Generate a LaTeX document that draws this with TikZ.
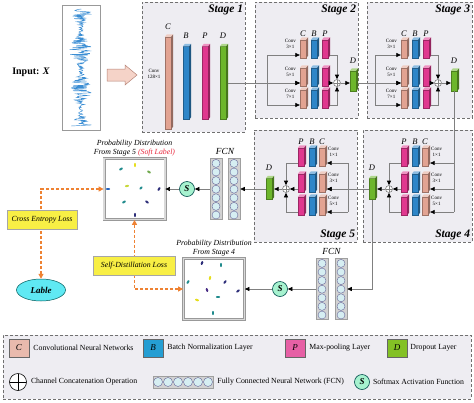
\documentclass[tikz,border=0pt]{standalone}
\usepackage{fontspec}
\setmainfont{Liberation Serif}
\usetikzlibrary{arrows.meta,positioning,calc,shapes.geometric}
\definecolor{convc}{HTML}{E2A392}
\definecolor{bnorm}{HTML}{2E86C8}
\definecolor{mpool}{HTML}{E0388F}
\definecolor{drop}{HTML}{6DB62C}
\definecolor{stagebg}{HTML}{EEEDF2}
\definecolor{bk60}{HTML}{707070}
\definecolor{wire}{HTML}{808080}
\definecolor{lossorange}{HTML}{EE8233}
\definecolor{lossyellow}{HTML}{F8EF45}
\definecolor{labcyan}{HTML}{5FE9F3}
\definecolor{mint}{HTML}{A6F2CF}
\definecolor{cellblue}{HTML}{D6EEF2}
\definecolor{signal}{HTML}{3B8ED4}
\definecolor{softred}{HTML}{E8283C}
\definecolor{arrowpink}{HTML}{F5D3C8}
\definecolor{dotyellow}{HTML}{E6DE1E}
\definecolor{dotteal}{HTML}{1F8A8C}
\definecolor{dotolive}{HTML}{6FA84C}
\definecolor{dotyg}{HTML}{C8D83A}
\definecolor{dotblue}{HTML}{2463BE}
\definecolor{dotnavy}{HTML}{2C2D78}
\definecolor{dotpurple}{HTML}{4A2F86}
\tikzset{
  stagebox/.style={rectangle, draw=bk60, fill=stagebg, line width=0.8pt,
    dash pattern=on 3pt off 2pt, inner sep=0pt},
  stagetitle/.style={font=\fontsize{11.5}{12}\selectfont\bfseries\itshape,
    inner sep=2.5pt},
  layerbox/.style={rectangle, draw=#1!70!black, fill=#1, line width=0.3pt,
    minimum width=6pt, inner sep=0pt},
  letter/.style={font=\fontsize{8.5}{9}\selectfont\itshape},
  convlabel/.style={font=\fontsize{5}{5.5}\selectfont, align=center, inner sep=0pt},
  wireline/.style={draw=wire, line width=0.6pt},
  wirearrow/.style={wireline, -{Triangle[length=4.5pt,width=4pt,color=black]}},
  concat/.style={circle, draw=#1, fill=white, line width=0.6pt, inner sep=0pt,
    path picture={\draw[#1, line width=0.5pt]
      (path picture bounding box.north) -- (path picture bounding box.south)
      (path picture bounding box.west) -- (path picture bounding box.east);}},
  concat/.default=wire,
  softmax/.style={circle, draw=teal!60!black, fill=mint, line width=0.6pt,
    minimum size=15pt, inner sep=0pt, font=\fontsize{9}{9}\selectfont\bfseries\itshape},
  fcncol/.style={rectangle, draw=gray!75, fill=gray!35, line width=0.5pt,
    minimum width=12pt, minimum height=61pt, inner sep=0pt},
  cell/.style={draw=gray!80!blue, fill=cellblue, line width=0.4pt},
  fcntitle/.style={font=\fontsize{9.3}{10}\selectfont\itshape},
  probbox/.style={rectangle, draw=gray!80, double=gray!30, double distance=1.4pt,
    line width=0.8pt, fill=white, minimum width=61pt, minimum height=61pt},
  probtitle/.style={font=\fontsize{7.8}{9}\selectfont\itshape, align=center, inner sep=1pt},
  scatterdot/.style={line width=2pt, line cap=round},
  lossbox/.style={rectangle, draw=gray!70, fill=lossyellow, line width=0.5pt,
    minimum height=19pt, font=\fontsize{7.8}{9}\selectfont\itshape},
  lossarrow/.style={draw=lossorange, line width=1.1pt, dash pattern=on 3pt off 2pt,
    {Triangle[length=5pt,width=5pt]}-{Triangle[length=5pt,width=5pt]}},
  legsq/.style={rectangle, draw=gray!80!black, fill=#1, line width=0.4pt,
    minimum width=20pt, minimum height=18pt, inner sep=0pt,
    font=\fontsize{9}{9}\selectfont\itshape},
  legtext/.style={font=\fontsize{7.8}{9}\selectfont, inner sep=0pt},
}
% one 3D layer: front face node plus top and side faces
\newcommand{\layerblock}[5]{%
  \node[layerbox=#2, minimum height=#5] (#1) at (#3,#4) {};
  \fill[#2!55!white] (#1.north west) -- ++(2pt,2.5pt)
    -- ([shift={(2pt,2.5pt)}]#1.north east) -- (#1.north east) -- cycle;
  \fill[#2!65!black] (#1.north east) -- ++(2pt,2.5pt)
    -- ([shift={(2pt,2.5pt)}]#1.south east) -- (#1.south east) -- cycle;
}
% stages 2 and 3: input on the left
\newcommand{\fwdstage}[3]{%
  \begin{scope}[xshift=#2]
    \draw[wireline] (#3,55) -- (#3,105);
    \foreach \r/\ry/\kw in {1/55/3,2/83/5,3/105/7}{
      \layerblock{#1c\r}{convc}{303}{\ry-6}{18pt}
      \layerblock{#1b\r}{bnorm}{314}{\ry-6}{18pt}
      \layerblock{#1p\r}{mpool}{325}{\ry-6}{18pt}
      \node[convlabel, anchor=east] at (296,\ry-11) {Conv\\\kw{}×1};
      \draw[wirearrow] (#3,\ry) -- ([yshift=-6pt]#1c\r.west);
    }
    \node[letter, above=0pt of #1c1] {C};
    \node[letter, above=0pt of #1b1] {B};
    \node[letter, above=0pt of #1p1] {P};
    \node[concat, minimum size=7pt] (#1cat) at (337,83) {};
    \draw[wirearrow] ([shift={(2pt,-6pt)}]#1p1.east) -| (#1cat.north);
    \draw[wirearrow] ([shift={(2pt,-6pt)}]#1p2.east) -- (#1cat.west);
    \draw[wirearrow] ([shift={(2pt,-6pt)}]#1p3.east) -| (#1cat.south);
    \layerblock{#1d}{drop}{353}{81}{20pt}
    \node[letter, above=4pt of #1d] {D};
    \draw[wirearrow] (#1cat.east) -- ([yshift=-2pt]#1d.west);
  \end{scope}
}
% stages 4 and 5: input on the right
\newcommand{\bwdstage}[3]{%
  \begin{scope}[xshift=#2]
    \draw[wireline] (#3,163) -- (#3,212);
    \foreach \r/\ry/\kw in {1/163/1,2/189/3,3/212/5}{
      \layerblock{#1c\r}{convc}{425}{\ry-6}{18pt}
      \layerblock{#1b\r}{bnorm}{415}{\ry-6}{18pt}
      \layerblock{#1p\r}{mpool}{404}{\ry-6}{18pt}
      \node[convlabel, anchor=west] at (431,\ry-11) {Conv\\\kw{}×1};
      \draw[wirearrow] (#3,\ry) -- ([shift={(2pt,-6pt)}]#1c\r.east);
    }
    \node[letter, above=0pt of #1c1] {C};
    \node[letter, above=0pt of #1b1] {B};
    \node[letter, above=0pt of #1p1] {P};
    \node[concat, minimum size=7pt] (#1cat) at (389,189) {};
    \draw[wirearrow] ([yshift=-6pt]#1p1.west) -| (#1cat.north);
    \draw[wirearrow] ([yshift=-6pt]#1p2.west) -- (#1cat.east);
    \draw[wirearrow] ([yshift=-6pt]#1p3.west) -| (#1cat.south);
    \layerblock{#1d}{drop}{372}{189}{21pt}
    \node[letter, above=4pt of #1d] {D};
    \draw[wirearrow] (#1cat.west) -- ([xshift=2pt]#1d.east);
  \end{scope}
}

\begin{document}
\begin{tikzpicture}[x=1pt, y=-1pt]
  \useasboundingbox (0,0) rectangle (474,402);

  % Input signal
  \node[font=\fontsize{10}{12}\selectfont\bfseries] (inlabel) at (31,72) {Input: \textit{X}};
  \node[rectangle, draw=gray!80, fill=white, line width=0.6pt, anchor=north west,
        minimum width=38pt, minimum height=125pt] (inbox) at (62,5) {};
  \pgfmathsetseed{11}
  \draw[signal, line width=0.45pt] plot[domain=9:126, samples=230]
    ({81 + (7+5*sin(9*\x))*rand}, \x);
  \fill[arrowpink, draw=convc!80!black, line width=0.5pt]
    (107,69) -- (125,69) -- (125,65) -- (137,75) -- (125,85) -- (125,81) -- (107,81) -- cycle;

  % Stage boxes
  \node[stagebox, anchor=north west, minimum width=103pt, minimum height=130pt] (st1) at (142,2) {};
  \node[stagebox, anchor=north west, minimum width=103pt, minimum height=116pt] (st2) at (255,2) {};
  \node[stagebox, anchor=north west, minimum width=105pt, minimum height=116pt] (st3) at (367,2) {};
  \node[stagebox, anchor=north west, minimum width=103pt, minimum height=112pt] (st5) at (254,130) {};
  \node[stagebox, anchor=north west, minimum width=109pt, minimum height=112pt] (st4) at (363,130) {};
  \node[stagetitle, anchor=north east] at (st1.north east) {Stage 1};
  \node[stagetitle, anchor=north east] at (st2.north east) {Stage 2};
  \node[stagetitle, anchor=north east] at (st3.north east) {Stage 3};
  \node[stagetitle, anchor=south east] at (st5.south east) {Stage 5};
  \node[stagetitle, anchor=south east] at (st4.south east) {Stage 4};

  % Stage 1
  \layerblock{c1}{convc}{168}{83}{92pt}
  \layerblock{b1}{bnorm}{186}{83}{73pt}
  \layerblock{p1}{mpool}{205}{83}{73pt}
  \layerblock{d1}{drop}{223}{83}{73pt}
  \node[letter, above=4pt of c1] {C};
  \node[letter, above=4pt of b1] {B};
  \node[letter, above=4pt of p1] {P};
  \node[letter, above=4pt of d1] {D};
  \node[convlabel] at (154,74) {Conv\\128×1};

  % Stages 2 to 5
  \fwdstage{s2}{0pt}{267}
  \fwdstage{s3}{101pt}{274}
  \coordinate (trunk4) at (454,212);
  \bwdstage{s4}{0pt}{454}
  \bwdstage{s5}{-103pt}{451}
  \draw[wirearrow] ([xshift=2pt]d1.east) -- ([yshift=-6pt]s2c2.west);
  \draw[wirearrow] ([shift={(2pt,-2pt)}]s2d.east) -- ([yshift=-6pt]s3c2.west);
  \draw[wireline] (s3d.south) -- (trunk4);
  \draw[wirearrow] (s4d.west) -- ([shift={(2pt,-6pt)}]s5c2.east);

  % Heads from stage 5 and stage 4
  \node[fcncol] (fcnA1) at (216,189) {};
  \node[fcncol] (fcnA2) at (234,189) {};
  \node[fcncol] (fcnB1) at (322,289) {};
  \node[fcncol] (fcnB2) at (341,289) {};
  \foreach \i in {0,...,6}{
    \draw[cell] (216,{163.4+8.6*\i}) circle (4pt);
    \draw[cell] (234,{163.4+8.6*\i}) circle (4pt);
    \draw[cell] (322,{263.4+8.6*\i}) circle (4pt);
    \draw[cell] (341,{263.4+8.6*\i}) circle (4pt);
  }
  \node[fcntitle, above=0pt of $(fcnA1.north)!0.5!(fcnA2.north)$] {FCN};
  \node[fcntitle, above=0pt of $(fcnB1.north)!0.5!(fcnB2.north)$] {FCN};
  \node[softmax] (smA) at (187,189) {S};
  \node[softmax] (smB) at (280,289) {S};
  \node[probbox] (probA) at (134.5,189) {};
  \node[probbox] (probB) at (214,289) {};
  \node[probtitle, above=1pt of probA] {Probability Distribution\\
    From Stage 5 \textcolor{softred}{(Soft Label)}};
  \node[probtitle, above=1pt of probB] {Probability Distribution\\From Stage 4};
  \draw[wirearrow] (s5d.west) -- (fcnA2.east);
  \draw[wirearrow] (fcnA1.west) -- (smA.east);
  \draw[wirearrow] (smA.west) -- (probA.east);
  \draw[wirearrow] (s4d.south) |- (fcnB2.east);
  \draw[wirearrow] (fcnB1.west) -- (smB.east);
  \draw[wirearrow] (smB.west) -- (probB.east);

  % Scatter of class probabilities
  \foreach \mx/\my/\mc/\ma in {135/165/dotyellow/90, 121/169/dotteal/30,
      149/172/dotolive/-30, 127/186/dotyg/10, 141/188/dotteal/45, 108/189/dotblue/0,
      159/189/dotnavy/60, 124/202/dotteal/30, 147/202/dotnavy/-40, 135/215/dotnavy/90,
      202/263/dotnavy/70, 221/265/dotteal/90, 210/278/dotyellow/80, 188/282/dotteal/60,
      225/282/dotnavy/50, 207/290/dotpurple/110, 238/291/dotnavy/40, 218/297/dotteal/0,
      197/300/dotyellow/-20, 213/313/dotteal/90}{
    \draw[scatterdot, \mc] ([shift={(\ma:1.1pt)}]\mx,\my) -- ([shift={(\ma+180:1.1pt)}]\mx,\my);
  }

  % Losses
  \node[ellipse, draw=teal!70!black, fill=labcyan, line width=0.5pt, minimum width=49pt,
        minimum height=22pt, inner sep=0pt, font=\fontsize{9}{9}\selectfont\bfseries\itshape]
        (lable) at (41,290) {Lable};
  \draw[lossarrow] (lable.north) |- (probA.west);
  \draw[lossarrow] (probA.south) |- (probB.west);
  \node[lossbox, minimum width=70pt] (celoss) at (42,219.5) {Cross Entropy Loss};
  \node[lossbox, minimum width=82pt] (sdloss) at (134,265.5) {Self-Distillation Loss};

  % Legend
  \node[stagebox, anchor=north west, minimum width=468pt, minimum height=64pt] (legend) at (3,335) {};
  \node[legsq=convc!75!white] (lgc) at (19,348) {C};
  \node[legtext, right=4pt of lgc] {Convolutional Neural Networks};
  \node[legsq=bnorm!80!cyan] (lgb) at (153,348) {B};
  \node[legtext, right=4pt of lgb] {Batch Normalization Layer};
  \node[legsq=mpool!80!white] (lgp) at (295,348) {P};
  \node[legtext, right=4pt of lgp] {Max-pooling Layer};
  \node[legsq=drop!85!yellow] (lgd) at (397,348) {D};
  \node[legtext, right=3pt of lgd] {Dropout Layer};
  \node[concat=black, minimum size=17pt] (lgcat) at (18,382) {};
  \node[legtext, right=4pt of lgcat] {Channel Concatenation Operation};
  \node[rectangle, draw=gray!75, fill=gray!35, line width=0.5pt, minimum width=60pt,
        minimum height=12pt, inner sep=0pt] (lgfcn) at (183,382) {};
  \foreach \i in {0,...,5}{
    \draw[cell] ({158+10*\i},382) circle (4.5pt);
  }
  \node[legtext, right=4pt of lgfcn] {Fully Connected Neural Network (FCN)};
  \node[softmax] (lgs) at (362,382) {S};
  \node[legtext, right=3pt of lgs] {Softmax Activation Function};
\end{tikzpicture}
\end{document}
